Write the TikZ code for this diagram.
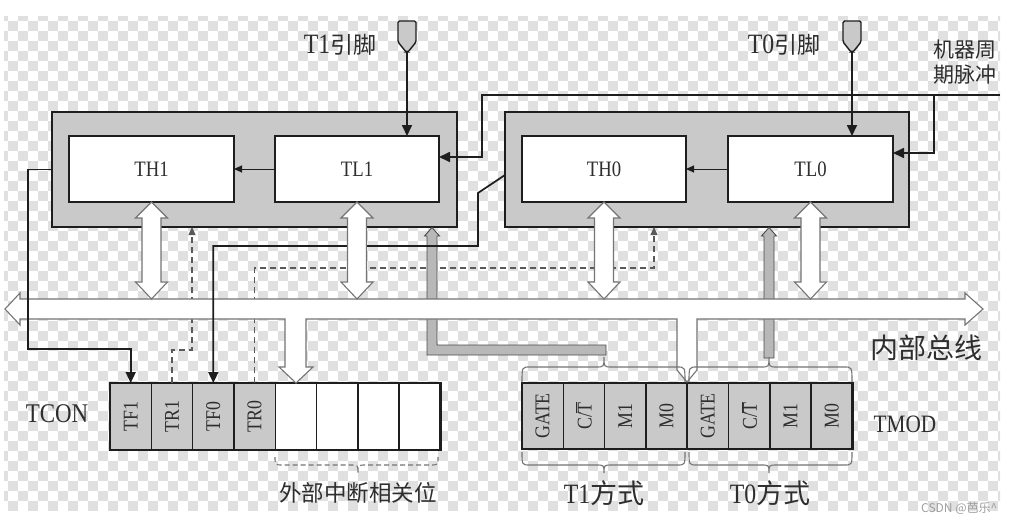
\documentclass[tikz,border=0pt]{standalone}
\usepackage{fontspec}
\usepackage{graphicx}
\setmainfont{Liberation Serif}[FakeStretch=0.85]
\newfontfamily\cjk{Noto Sans CJK SC}
\newfontfamily\wmfont{Noto Sans CJK SC}
\usetikzlibrary{arrows.meta}
\definecolor{boxgray}{HTML}{C9C9C9}
\definecolor{chk}{HTML}{E0E0E0}
\definecolor{ink}{HTML}{1E1E1E}
\definecolor{txt}{HTML}{2E2E2E}
\definecolor{outl}{HTML}{747474}
\definecolor{arrgray}{HTML}{B8B8B8}
\definecolor{dashc}{HTML}{5A5A5A}
\newcommand\bracepath[6]{(#1,#4) .. controls (#1,#5) .. (#1+8,#5) -- (#3-8,#5) .. controls (#3,#5) .. (#3,#6) .. controls (#3,#5) .. (#3+8,#5) -- (#2-8,#5) .. controls (#2,#5) .. (#2,#4)}
\newcommand\bidir[3]{(#1,#2) -- (#1+16,#2+16) -- (#1+9.5,#2+16) -- (#1+9.5,#3-17) -- (#1+16,#3-17) -- (#1,#3) -- (#1-16,#3-17) -- (#1-9.5,#3-17) -- (#1-9.5,#2+16) -- (#1-16,#2+16) -- cycle}
\tikzset{
 outerbox/.style={draw=ink, line width=1.8pt, fill=boxgray, inner sep=0pt, outer sep=0pt},
 regbox/.style={draw=ink, line width=1.8pt, fill=white, inner sep=0pt, outer sep=0pt, minimum height=66pt, font=\fontsize{22}{22}\selectfont, text=txt},
 cell/.style={draw=ink, line width=1.5pt, minimum width=41.3pt, minimum height=67pt, inner sep=0pt, outer sep=0pt, font=\fontsize{21}{21}\selectfont, text=txt},
 conn/.style={draw=ink, line width=1.7pt},
 arr/.style={-{Triangle[length=11pt,width=10pt]}},
 sarr/.style={-{Triangle[length=8pt,width=7pt]}},
 dsh/.style={draw=dashc, line width=1.1pt, dash pattern=on 6pt off 4pt},
 busln/.style={draw=outl, line width=1.1pt, fill=white},
 grayarr/.style={draw=ink!80, line width=0.9pt, fill=arrgray},
 bracesty/.style={draw=outl, line width=1.1pt},
 pinsty/.style={draw=ink, line width=1.4pt, fill=boxgray, rounded corners=1.5pt},
 lab/.style={text=txt, inner sep=0pt},
}
\begin{document}
\begin{tikzpicture}[x=1pt,y=-1pt]
\useasboundingbox (0,0) rectangle (1017,525);
\fill[white] (0,0) rectangle (1017,525);
% checkered background
\begin{scope}
\clip (4,16) rectangle (1000,510);
\foreach \j in {-1,...,49}{
  \pgfmathsetmacro\xo{mod(\j+2,2)*10-11.7}
  \foreach \i in {0,...,50}{
    \fill[chk] (\xo+20*\i, 20.7+10*\j) rectangle ++(10,10);
  }
}
\end{scope}

% timer blocks
\node[outerbox, minimum width=405pt, minimum height=115pt] (T1box) at (254.5,169.5) {};
\node[outerbox, minimum width=404pt, minimum height=115pt] (T0box) at (707,169.5) {};
\node[regbox, minimum width=165pt] (TH1) at (151.5,169) {TH1};
\node[regbox, minimum width=164pt] (TL1) at (357,169) {TL1};
\node[regbox, minimum width=164pt] (TH0) at (604,169) {TH0};
\node[regbox, minimum width=165pt] (TL0) at (810.5,169) {TL0};
\draw[draw=ink, line width=1pt, sarr] (TL1.west) -- (TH1.east);
\draw[draw=ink, line width=1pt, sarr] (TL0.west) -- (TH0.east);

% pins
\draw[pinsty] (398,21) -- (416,21) -- (416,42) -- (408,52) -- (406,52) -- (398,42) -- cycle;
\coordinate (pin1) at (407,52);
\draw[pinsty] (843,21) -- (861,21) -- (861,42) -- (853,52) -- (851,52) -- (843,42) -- cycle;
\coordinate (pin0) at (852,52);
\draw[conn, arr] (pin1) -- (TL1.north -| pin1);
\draw[conn, arr] (pin0) -- (TL0.north -| pin0);

% machine cycle pulse
\coordinate (mc) at (1000,95);
\draw[conn, arr] (mc) -- (482,95) -- (482,157) -- (TL1.east |- 0,157);
\draw[conn, arr] (934,95) -- (934,153) -- (TL0.east |- 0,153);

% registers TCON
\node[cell, fill=boxgray] (TF1) at (130.7,416.5) {\rotatebox{90}{TF1}};
\node[cell, fill=boxgray] (TR1) at (172.0,416.5) {\rotatebox{90}{TR1}};
\node[cell, fill=boxgray] (TF0) at (213.3,416.5) {\rotatebox{90}{TF0}};
\node[cell, fill=boxgray] (TR0) at (254.6,416.5) {\rotatebox{90}{TR0}};
\node[cell, fill=white] (IE1) at (295.9,416.5) {};
\node[cell, fill=white] (IT1) at (337.2,416.5) {};
\node[cell, fill=white] (IE0) at (378.5,416.5) {};
\node[cell, fill=white] (IT0) at (419.8,416.5) {};
\draw[ink, line width=2.8pt] (TF1.north west) rectangle (IT0.south east);

% registers TMOD
\node[cell, fill=boxgray, minimum height=66pt] (GA1) at (542.6,416) {\rotatebox{90}{GATE}};
\node[cell, fill=boxgray, minimum height=66pt] (CT1) at (583.9,416) {\rotatebox{90}{C/$\overline{\mbox{T}}$}};
\node[cell, fill=boxgray, minimum height=66pt] (MA1) at (625.2,416) {\rotatebox{90}{M1}};
\node[cell, fill=boxgray, minimum height=66pt] (MB1) at (666.5,416) {\rotatebox{90}{M0}};
\node[cell, fill=boxgray, minimum height=66pt] (GA0) at (707.8,416) {\rotatebox{90}{GATE}};
\node[cell, fill=boxgray, minimum height=66pt] (CT0) at (749.1,416) {\rotatebox{90}{C/$\overline{\mbox{T}}$}};
\node[cell, fill=boxgray, minimum height=66pt] (MA0) at (790.4,416) {\rotatebox{90}{M1}};
\node[cell, fill=boxgray, minimum height=66pt] (MB0) at (831.7,416) {\rotatebox{90}{M0}};
\draw[ink, line width=2.8pt] (GA1.north west) rectangle (MB0.south east);

% dashed control lines (under the bus)
\draw[dsh, sarr] (TR1.north) -- (TR1.north |- 0,350) -- (192,350) -- (T1box.south -| 192,0);
\draw[dsh, sarr] (TR0.north) -- (TR0.north |- 0,268) -- (654,268) -- (T0box.south -| 654,0);

% gray mode arrows
\draw[grayarr] (427,355) -- (606,355) -- (606,345) -- (437,345) -- (437,236) -- (439.5,236) -- (432,227.5) -- (424.5,236) -- (427,236) -- cycle;
\draw[grayarr] (764,358) -- (764,236) -- (761.5,236) -- (769,227.5) -- (776.5,236) -- (774,236) -- (774,358) -- cycle;

% internal bus
\draw[busln] (5,309) -- (20,293) -- (20,299) -- (965,299) -- (965,293) -- (983,309) -- (965,325) -- (965,319) -- (697,319) -- (697,370) -- (687,382) -- (677,370) -- (677,319) -- (306,319) -- (306,367) -- (313,367) -- (296,383) -- (279,367) -- (285,367) -- (285,319) -- (20,319) -- (20,325) -- cycle;

% overflow lines
\draw[conn, arr] (T1box.west) -- (28,169.5) -- (28,349) -- (TF1.north |- 0,349) -- (TF1.north);
\draw[conn, arr] (T0box.west |- 0,175) -- (478,193) -- (478,246) -- (TF0.north |- 0,246) -- (TF0.north);

% bidirectional data paths
\draw[busln] \bidir{151.5}{202}{299};
\draw[busln] \bidir{357}{202}{299};
\draw[busln] \bidir{604}{202}{299};
\draw[busln] \bidir{810.5}{202}{299};

% braces
\draw[bracesty] \bracepath{522}{685}{604}{382}{367}{357};
\draw[bracesty] \bracepath{689}{852}{769}{382}{367}{357};
\draw[bracesty] \bracepath{522}{685}{604}{452}{465}{473};
\draw[bracesty] \bracepath{689}{852}{769}{452}{465}{473};
\draw[bracesty, dash pattern=on 5pt off 3pt] \bracepath{275}{438}{358}{457}{465}{473};

% labels
\node[lab] (lp1) at (340,45) {{\fontsize{28}{28}\selectfont T1}{\cjk\fontsize{23}{23}\selectfont 引脚}};
\node[lab] (lp0) at (784,45) {{\fontsize{28}{28}\selectfont T0}{\cjk\fontsize{23}{23}\selectfont 引脚}};
\node[lab, anchor=west, align=left, font=\cjk\fontsize{21}{25}\selectfont] (lmc) at (933,62) {机器周\\期脉冲};
\node[lab, font=\fontsize{27}{27}\selectfont] (lTCON) at (57,414) {TCON};
\node[lab, font=\fontsize{25}{25}\selectfont] (lTMOD) at (905,424) {TMOD};
\node[lab, font=\cjk\fontsize{28}{28}\selectfont] (lbus) at (926,348) {内部总线};
\node[lab, font=\cjk\fontsize{22.5}{22.5}\selectfont] (lext) at (358,493) {外部中断相关位};
\node[lab] (lm1) at (604,493) {{\fontsize{28}{28}\selectfont T1}{\cjk\fontsize{27}{27}\selectfont 方式}};
\node[lab] (lm0) at (770,493) {{\fontsize{28}{28}\selectfont T0}{\cjk\fontsize{27}{27}\selectfont 方式}};
\node[anchor=west, inner sep=0pt, text=gray!75, font=\wmfont\fontsize{12}{12}\selectfont] (wm) at (921,508) {CSDN @芭乐\^{}};
\end{tikzpicture}
\end{document}
